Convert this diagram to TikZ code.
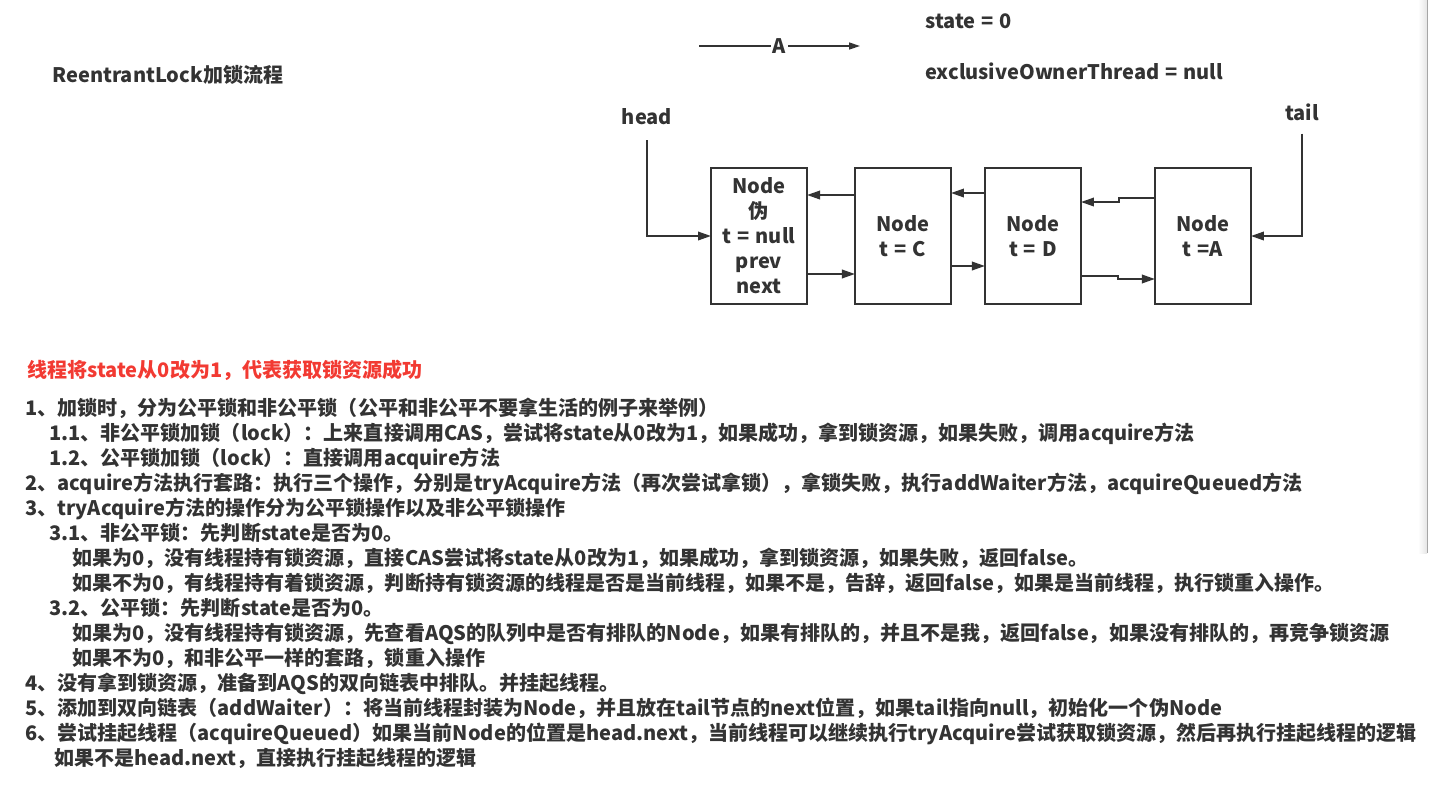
\documentclass[tikz,border=0pt]{standalone}
\usepackage{fontspec}
\usepackage{xcolor}
\usepackage{tikz}
\usetikzlibrary{arrows.meta,positioning}
\setmainfont{Noto Sans CJK SC}
\definecolor{txt}{HTML}{333333}
\definecolor{hl}{HTML}{F23A32}
\newcommand\txtfont{\fontsize{11.4}{14.2}\selectfont\bfseries\spaceskip=0.3em plus 0.1em\relax}

\begin{document}
\begin{tikzpicture}[x=0.02cm, y=-0.02cm, text=txt, font=\txtfont,
  box/.style={rectangle, draw=txt, line width=1.1pt, minimum width=1.92cm, minimum height=2.72cm, inner sep=0pt, outer sep=0pt, align=center},
  arr/.style={draw=txt, line width=1.1pt, -{Triangle[length=0.26cm, width=0.17cm]}},
  txtline/.style={anchor=base west, inner sep=0pt}]
\useasboundingbox (0,0) rectangle (1429,792);
\shade[left color=white, right color=gray!20] (1418,0) rectangle (1427,553);
\draw[gray!70, line width=0.5pt] (1427.5,0) -- (1427.5,553);

\node[txtline] (title) at (52,82) {ReentrantLock加锁流程};
\node[txtline] (state) at (925,28) {state = 0};
\node[txtline] (owner) at (925,79) {exclusiveOwnerThread = null};
\coordinate (aStart) at (699,46);
\coordinate (aEnd) at (860,46);
\draw[draw=txt, line width=0.8pt, -{Triangle[length=0.22cm, width=0.14cm]}] (aStart) -- node[fill=white, inner sep=1pt] (aLabel) {A} (aEnd);

\node (head) at (647,117) {head};
\node (tail) at (1302,112) {tail};
\node[box] (pseudo) at (759,236) {Node\\伪\\t = null\\prev\\next};
\node[box, right=0.96cm of pseudo] (nodeC) {Node\\t = C};
\node[box, right=0.68cm of nodeC] (nodeD) {Node\\t = D};
\node[box, right=1.48cm of nodeD] (nodeA) {Node\\t =A};

\draw[arr] ([yshift=-0.18cm]head.south) |- (pseudo.west);
\draw[arr] ([yshift=-0.14cm]tail.south) |- (nodeA.east);
\draw[arr] ([yshift=-0.54cm]nodeC.north west) -- ([yshift=-0.54cm]pseudo.north east);
\draw[arr] ([yshift=-2.12cm]pseudo.north east) -- ([yshift=-2.12cm]nodeC.north west);
\draw[arr] ([yshift=-0.5cm]nodeD.north west) -- ([yshift=-0.5cm]nodeC.north east);
\draw[arr] ([yshift=-1.96cm]nodeC.north east) -- ([yshift=-1.96cm]nodeD.north west);
\draw[arr] ([yshift=-0.6cm]nodeA.north west) -- ++(-0.72cm,0) |- ([yshift=-0.68cm]nodeD.north east);
\draw[arr] ([yshift=-2.16cm]nodeD.north east) -- ++(0.74cm,0) |- ([yshift=-2.22cm]nodeA.north west);

\node[txtline, text=hl] (result) at (27,377) {线程将state从0改为1，代表获取锁资源成功};
\node[txtline] (l1) at (25,415) {1、加锁时，分为公平锁和非公平锁（公平和非公平不要拿生活的例子来举例）};
\node[txtline] (l11) at (49,440) {1.1、非公平锁加锁（lock）：上来直接调用CAS，尝试将state从0改为1，如果成功，拿到锁资源，如果失败，调用acquire方法};
\node[txtline] (l12) at (49,465) {1.2、公平锁加锁（lock）：直接调用acquire方法};
\node[txtline] (l2) at (25,490) {2、acquire方法执行套路：执行三个操作，分别是tryAcquire方法（再次尝试拿锁），拿锁失败，执行addWaiter方法，acquireQueued方法};
\node[txtline] (l3) at (25,515) {3、tryAcquire方法的操作分为公平锁操作以及非公平锁操作};
\node[txtline] (l31) at (49,540) {3.1、非公平锁：先判断state是否为0。};
\node[txtline] (l31a) at (72,565) {如果为0，没有线程持有锁资源，直接CAS尝试将state从0改为1，如果成功，拿到锁资源，如果失败，返回false。};
\node[txtline] (l31b) at (72,590) {如果不为0，有线程持有着锁资源，判断持有锁资源的线程是否是当前线程，如果不是，告辞，返回false，如果是当前线程，执行锁重入操作。};
\node[txtline] (l32) at (49,615) {3.2、公平锁：先判断state是否为0。};
\node[txtline] (l32a) at (72,640) {如果为0，没有线程持有锁资源，先查看AQS的队列中是否有排队的Node，如果有排队的，并且不是我，返回false，如果没有排队的，再竞争锁资源};
\node[txtline] (l32b) at (72,665) {如果不为0，和非公平一样的套路，锁重入操作};
\node[txtline] (l4) at (25,690) {4、没有拿到锁资源，准备到AQS的双向链表中排队。并挂起线程。};
\node[txtline] (l5) at (25,715) {5、添加到双向链表（addWaiter）：将当前线程封装为Node，并且放在tail节点的next位置，如果tail指向null，初始化一个伪Node};
\node[txtline] (l6) at (25,740) {6、尝试挂起线程（acquireQueued）如果当前Node的位置是head.next，当前线程可以继续执行tryAcquire尝试获取锁资源，然后再执行挂起线程的逻辑};
\node[txtline] (l6a) at (54,765) {如果不是head.next，直接执行挂起线程的逻辑};
\end{tikzpicture}
\end{document}
